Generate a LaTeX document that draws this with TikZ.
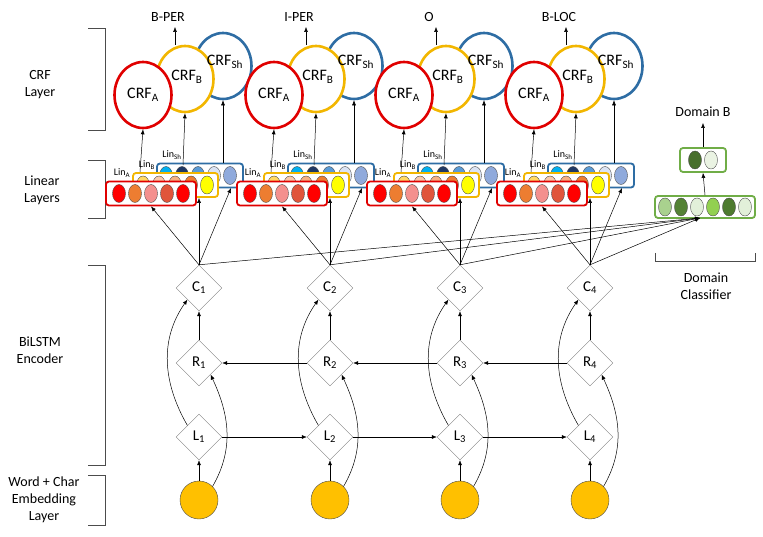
\documentclass[tikz,border=0pt]{standalone}
\usepackage{fontspec}
\setmainfont{Carlito}
\usetikzlibrary{shapes.geometric,arrows.meta}
\definecolor{cred}{HTML}{E00000}
\definecolor{cyel}{HTML}{F2B600}
\definecolor{cblue}{HTML}{2E6DA4}
\definecolor{cgreen}{HTML}{70AD47}
\definecolor{embc}{HTML}{FFC000}
\newcommand{\sbs}[1]{\textsubscript{#1}}
\tikzset{
 x=1pt,y=-1pt,
 arr/.style={-{Latex[length=5pt,width=4pt]},black,line width=0.5pt},
 dia/.style={diamond,draw=gray,fill=white,minimum width=46,minimum height=46,inner sep=0pt,font=\fontsize{15}{15}\selectfont},
 crf/.style={ellipse,line width=2.6pt,fill=white,minimum width=57,minimum height=66,inner sep=0pt},
 crft/.style={inner sep=0pt,font=\fontsize{16}{16}\selectfont},
 box/.style={rectangle,rounded corners=3pt,line width=1.8pt,fill=white,minimum height=24,inner sep=0pt},
 dot/.style={ellipse,draw=black!70,line width=0.4pt,minimum width=13,minimum height=18,inner sep=0pt},
 lab/.style={font=\fontsize{14}{17}\selectfont,align=center},
 small/.style={font=\fontsize{10}{10}\selectfont},
 brk/.style={draw=black!70,line width=0.6pt}
}
\begin{document}
\begin{tikzpicture}
\useasboundingbox (0,0) rectangle (763,537);
% left labels and brackets
\node[lab] (l1) at (40,85) {CRF\\Layer};
\draw[brk] (88,28) -- (105,28) -- (105,130) -- (88,130);
\node[lab] (l2) at (42,190) {Linear\\Layers};
\draw[brk] (88,160) -- (105,160) -- (105,218) -- (88,218);
\node[lab] (l3) at (40,350) {BiLSTM\\Encoder};
\draw[brk] (88,265) -- (105,265) -- (105,465) -- (88,465);
\node[lab] (l4) at (44,500) {Word + Char\\Embedding\\Layer};
\draw[brk] (88,475) -- (105,475) -- (105,525) -- (88,525);
% domain classifier
\node[box,draw=cgreen,minimum width=100,minimum height=22] (dbot) at (705,207) {};
\foreach \c [count=\k] in {A9D18E,548235,E2F0D9,92D050,4E7B2F,E2F0D9}
 {\definecolor{tmp}{HTML}{\c}\node[dot,fill=tmp] (dg\k) at (705-40+\k*16-16,207) {};}
\node[box,draw=cgreen,minimum width=46,minimum height=24] (dtop) at (703,160) {};
\node[dot,fill=black!20!cgreen!80!black] (dt1) at (695,160) {};
\node[dot,fill=cgreen!15] (dt2) at (711,160) {};
\coordinate (dout) at (703,123);
\draw[arr] (dbot.north) -- (dtop.south);
\draw[arr] (dtop.north) -- (dout);
\node[lab] (dB) at (703,112) {Domain B};
\draw[brk] (655,253) -- (655,261) -- (755,261) -- (755,253);
\node[lab] (dC) at (706,286) {Domain\\Classifier};
\coordinate (din) at (700,218);
% columns
\foreach \i/\x/\t in {1/199/B-PER,2/330/I-PER,3/460/O,4/590/B-LOC}{
 \node[dia] (C\i) at (\x,288) {C\sbs{\i}};
 \node[dia] (R\i) at (\x,363) {R\sbs{\i}};
 \node[dia] (L\i) at (\x,437) {L\sbs{\i}};
 \node[circle,draw=black!70,fill=embc,minimum size=38,inner sep=0pt] (E\i) at (\x,500) {};
 \draw[arr] (E\i) -- (L\i);
 \draw[arr] (R\i) -- (C\i);
 \draw[arr] (L\i.north west) to[out=120,in=235] (C\i.south west);
 \draw[arr] (E\i.north east) to[out=60,in=-65] (R\i.south east);
 % linear boxes
 \node[box,draw=cblue,minimum width=86] (B\i) at (\x+1,175.5) {};
 \foreach \c [count=\k] in {00B0F0,1F3864,5B9BD5,DAE3F3,8FAADC}
  {\definecolor{tmp}{HTML}{\c}\node[dot,fill=tmp] (Bd\i\k) at (\x-33+\k*16-16+0,175.5) {};}
 \node[box,draw=cyel,minimum width=85] (Y\i) at (\x-23.5,185) {};
 \foreach \c [count=\k] in {FFD966,F8CBAD,F4B183,ED7D31,FFFF00}
  {\definecolor{tmp}{HTML}{\c}\node[dot,fill=tmp] (Yd\i\k) at (\x-56+\k*16-16,185) {};}
 \node[box,draw=cred,minimum width=90] (A\i) at (\x-48,193.5) {};
 \foreach \c [count=\k] in {FF0000,ED7D31,F4908E,E0553B,FF0000}
  {\definecolor{tmp}{HTML}{\c}\node[dot,fill=tmp] (Ad\i\k) at (\x-80+\k*16-16,193.5) {};}
 \node[small] (tA\i) at (\x-77,173) {Lin\sbs{A}};
 \node[small] (tB\i) at (\x-52,165) {Lin\sbs{B}};
 \node[small] (tS\i) at (\x-27,155) {Lin\sbs{Sh}};
 % CRF
 \node[crf,draw=cblue] (S\i) at (\x+24,66) {};
 \node[crf,draw=cyel] (F\i) at (\x-14,79) {};
 \node[crf,draw=cred] (K\i) at (\x-56,95) {};
 \node[lab] (o\i) at (\x-31,17) {\t};
 \draw[arr] (\x-24,45) coordinate (fo\i) -- (\x-24,27);
 \draw[arr] (\x-59,172) coordinate (ka\i) -- (K\i.south);
 \draw[arr] (\x-16,165) coordinate (fb\i) -- (F\i.south);
 \draw[arr] (B\i.north -| S\i.south) -- (S\i.south);
 % from C
 \draw[arr] (C\i.north) -- (A\i.south);
 \draw[arr] (C\i.north) -- (Y\i.south -| C\i.north);
 \draw[arr] (C\i.north) -- (\x+32,188);
 \draw[arr] (C\i.north) -- (din);
}
\foreach \i/\x in {1/199,2/330,3/460,4/590}{
 \node[crft] (sT\i) at (\x+26,62) {CRF\sbs{Sh}};
 \node[crft] (fT\i) at (\x-12,77) {CRF\sbs{B}};
 \node[crft] (kT\i) at (\x-56,95) {CRF\sbs{A}};
}
\foreach \a/\b in {1/2,2/3,3/4}{
 \draw[arr] (L\a) -- (L\b);
 \draw[arr] (R\b) -- (R\a);
}
\end{tikzpicture}
\end{document}
